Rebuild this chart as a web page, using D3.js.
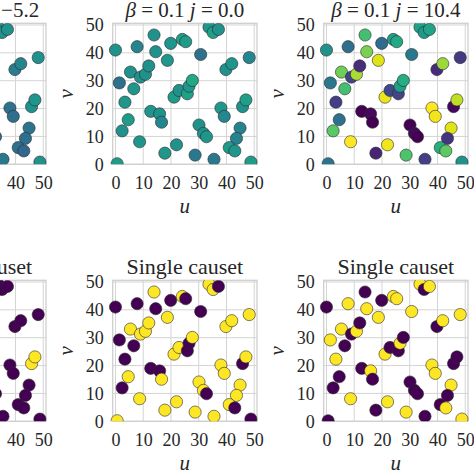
<!DOCTYPE html>
<html>
  <head>
    <meta charset="utf-8" />
    <title>Causet spins</title>
    <script src="https://cdn.jsdelivr.net/npm/d3@7/dist/d3.min.js"></script>
    <style>
      html, body { margin: 0; padding: 0; background: #fff; overflow: hidden; }
      text { font-family: "Liberation Serif", "DejaVu Serif", serif; fill: #262626; }
    </style>
  </head>
  <body>
    <div id="canvas"></div>
  </body>
  <script>
    // causet element coordinates (same sprinkling in every panel)
    const pointsU = [0, 7.8, 13.9, 14.5, 18.7, 19.9, 24.1, 25.3, 33.7, 35.2,
      37.1, 30.7, 48.2, 39.8, 41.9, 1.4, 5.4, 6.6, 9.0, 10.8,
      12.0, 3.4, 4.6, 2.4, 8.7, 12.7, 15.9, 16.6, 21.1, 22.9,
      25.9, 26.5, 27.7, 22.0, 17.8, 28.7, 35.5, 30.1, 31.7, 32.8,
      38.0, 39.2, 45.8, 47.0, 44.9, 43.6, 41.0, 43.0, 0.6, 48.8];
    const pointsV = [41.0, 42.2, 46.4, 40.4, 37.3, 43.4, 44.8, 44.0, 49.2, 47.3,
      48.4, 39.4, 38.3, 34.0, 36.1, 29.2, 33.1, 27.1, 31.3, 32.3,
      35.3, 22.3, 16.0, 12.0, 8.1, 19.0, 18.1, 15.1, 24.1, 26.5,
      25.3, 28.0, 30.1, 7.0, 4.0, 3.3, 1.8, 14.1, 11.1, 9.9,
      20.2, 17.2, 20.7, 23.1, 13.0, 9.3, 6.0, 4.8, 0.2, 0.8];

    const beta = "0.1";
    const jValues = ["−5.2", "0.0", "10.4"];
    const bottomTitle = "Single causet";
    const ticks = [0, 10, 20, 30, 40, 50];

    // colour values (0..1 on viridis) per element, top row
    const spinTopLeft = [0.45, 0.42, 0.46, 0.45, 0.46, 0.42, 0.48, 0.46, 0.48, 0.5,
      0.5, 0.38, 0.5, 0.42, 0.45, 0.38, 0.45, 0.46, 0.44, 0.45,
      0.45, 0.46, 0.47, 0.45, 0.46, 0.45, 0.44, 0.42, 0.47, 0.45,
      0.48, 0.46, 0.5, 0.45, 0.46, 0.38, 0.4, 0.44, 0.42, 0.36,
      0.37, 0.36, 0.5, 0.52, 0.38, 0.36, 0.37, 0.33, 0.48, 0.5];
    const spinTopMid = [0.5, 0.45, 0.5, 0.5, 0.53, 0.52, 0.57, 0.55, 0.53, 0.57,
      0.5, 0.37, 0.46, 0.5, 0.52, 0.37, 0.5, 0.52, 0.5, 0.5,
      0.5, 0.53, 0.55, 0.5, 0.52, 0.52, 0.5, 0.46, 0.55, 0.5,
      0.57, 0.52, 0.6, 0.5, 0.53, 0.4, 0.4, 0.5, 0.5, 0.52,
      0.53, 0.46, 0.5, 0.56, 0.44, 0.44, 0.55, 0.52, 0.55, 0.55];
    const spinTopRight = [0.5, 0.36, 0.7, 0.8, 0.95, 0.35, 0.57, 0.6, 0.57, 0.54,
      0.58, 0.4, 0.17, 0.12, 0.85, 0.4, 0.78, 0.7, 0.2, 0.87,
      0.13, 0.18, 0.37, 0.74, 1.0, 0.0, 0.02, 0.0, 0.97, 0.22,
      0.2, 0.56, 0.62, 0.98, 0.1, 0.72, 0.18, 0.0, 0.02, 0.0,
      1.0, 0.98, 0.02, 0.9, 0.95, 0.15, 0.63, 0.75, 0.38, 0.5];

    // single causet samples, bottom row (1 = up / yellow)
    const sampleLeft = [0, 0, 0, 0, 0, 0, 0, 0, 0, 0,
      0, 0, 0, 0, 0, 0, 0, 0, 0, 0,
      0, 0, 0, 0, 0, 0, 0, 0, 0, 0,
      0, 0, 0, 0, 0, 0, 0, 0, 0, 0,
      0, 0, 1, 1, 0, 0, 0, 0, 0, 0];
    const sampleMid = [0, 0, 1, 0, 1, 0, 1, 0, 1, 1,
      0, 0, 1, 1, 1, 0, 1, 0, 1, 1,
      1, 0, 1, 0, 1, 0, 0, 1, 1, 1,
      0, 0, 1, 1, 1, 1, 1, 1, 1, 0,
      1, 1, 0, 1, 1, 1, 1, 0, 1, 0];
    const sampleRight = [0, 1, 0, 1, 1, 0, 1, 1, 1, 0,
      1, 1, 1, 0, 1, 1, 1, 0, 0, 1,
      0, 1, 0, 0, 1, 0, 1, 0, 1, 0,
      0, 1, 0, 1, 0, 1, 0, 0, 0, 0,
      1, 1, 0, 0, 1, 0, 0, 1, 0, 1];

    const width = 474;
    const height = 474;
    const colX = [-98.3, 112.7, 323.7];
    const rowY = [23.3, 280.3];
    const pw = 144.3;
    const ph = 141;

    const color = d3.scaleSequential(d3.interpolateViridis).domain([0, 1]);

    const panels = [
      { col: 0, row: 0, vals: spinTopLeft, j: jValues[0] },
      { col: 1, row: 0, vals: spinTopMid, j: jValues[1] },
      { col: 2, row: 0, vals: spinTopRight, j: jValues[2] },
      { col: 0, row: 1, vals: sampleLeft },
      { col: 1, row: 1, vals: sampleMid },
      { col: 2, row: 1, vals: sampleRight },
    ];

    const svg = d3
      .create("svg")
      .attr("width", width)
      .attr("height", height)
      .attr("viewBox", [0, 0, width, height]);

    panels.forEach((p, i) => {
      const x0 = colX[p.col];
      const y0 = rowY[p.row];
      const x = d3.scaleLinear().domain([-1, 51]).range([x0, x0 + pw]);
      const y = d3.scaleLinear().domain([0, 50.6]).range([y0 + ph, y0]);
      const g = svg.append("g");

      // grid
      g.append("g")
        .attr("stroke", "#d4d4d4")
        .attr("stroke-width", 1)
        .selectAll()
        .data(ticks)
        .join("line")
        .attr("x1", (d) => x(d))
        .attr("x2", (d) => x(d))
        .attr("y1", y0)
        .attr("y2", y0 + ph);
      g.append("g")
        .attr("stroke", "#d4d4d4")
        .attr("stroke-width", 1)
        .selectAll()
        .data(ticks)
        .join("line")
        .attr("x1", x0)
        .attr("x2", x0 + pw)
        .attr("y1", (d) => y(d))
        .attr("y2", (d) => y(d));

      // frame
      g.append("rect")
        .attr("x", x0)
        .attr("y", y0)
        .attr("width", pw)
        .attr("height", ph)
        .attr("fill", "none")
        .attr("stroke", "#cfcfcf")
        .attr("stroke-width", 1.3);

      // axes (tick labels only)
      const xAxis = g.append("g")
        .attr("transform", `translate(0,${y0 + ph})`)
        .call(d3.axisBottom(x).tickValues(ticks).tickSize(0).tickPadding(12));
      const yAxis = g.append("g")
        .attr("transform", `translate(${x0},0)`)
        .call(d3.axisLeft(y).tickValues(ticks).tickSize(0).tickPadding(9));
      [xAxis, yAxis].forEach((a) => {
        a.select(".domain").remove();
        a.selectAll("text")
          .attr("font-family", '"Liberation Serif", serif')
          .attr("font-size", 18)
          .attr("fill", "#262626");
      });

      // axis labels
      g.append("text")
        .attr("x", x0 + pw / 2)
        .attr("y", y0 + ph + 49)
        .attr("text-anchor", "middle")
        .attr("font-size", 21)
        .attr("font-style", "italic")
        .text("u");
      g.append("text")
        .attr("transform", `translate(${x0 - 40},${y0 + ph / 2}) rotate(-90)`)
        .attr("text-anchor", "middle")
        .attr("font-size", 21)
        .attr("font-style", "italic")
        .text("v");

      // title
      const t = g.append("text")
        .attr("x", x0 + pw / 2)
        .attr("y", y0 - 6.6)
        .attr("text-anchor", "middle")
        .attr("font-size", p.row === 0 ? 21 : 22);
      if (p.row === 0) {
        t.append("tspan").attr("font-style", "italic").text("β");
        t.append("tspan").text(` = ${beta}  `);
        t.append("tspan").attr("font-style", "italic").text("j");
        t.append("tspan").text(` = ${p.j}`);
      } else {
        t.text(bottomTitle);
      }

      // points, clipped top and bottom to the axes box
      const clipId = "clip" + i;
      svg.append("clipPath")
        .attr("id", clipId)
        .append("rect")
        .attr("x", x0 - 12)
        .attr("y", y0)
        .attr("width", pw + 24)
        .attr("height", ph);
      g.append("g")
        .attr("clip-path", `url(#${clipId})`)
        .selectAll()
        .data(pointsU.map((u, k) => ({ u, v: pointsV[k], c: p.vals[k] })))
        .join("circle")
        .attr("cx", (d) => x(d.u))
        .attr("cy", (d) => y(d.v))
        .attr("r", 6.1)
        .attr("fill", (d) => color(d.c))
        .attr("stroke", "#2a2a2a")
        .attr("stroke-width", 0.6);
    });

    canvas.append(svg.node());
  </script>
</html>
